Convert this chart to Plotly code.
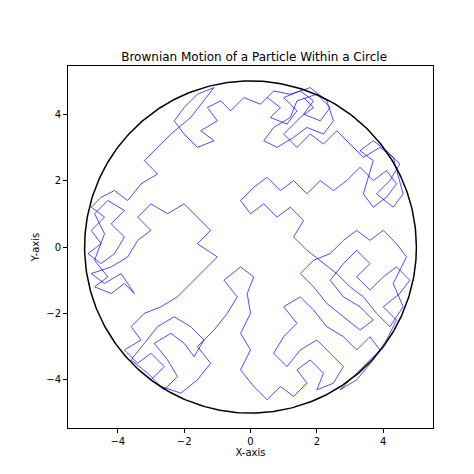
import plotly.graph_objects as go
import numpy as np

pts = [(0.5,4.5),(0.9,4.2),(0.6,3.9),(1.1,3.7),(1.4,4.1),(1.0,4.5),(1.5,4.7),(1.9,4.4),(1.6,4.0),(2.1,3.8),(2.4,4.2),(2.0,4.6),(1.4,4.4),(1.2,3.9),(0.7,3.6),(0.4,3.2),(0.8,3.0),(1.3,3.3),(1.7,3.6),(2.2,3.4),(2.5,3.8),(2.3,4.4),(1.8,4.8),(1.2,4.6),(0.7,4.7),(0.3,4.3),(-0.2,4.5),(-0.6,4.1),(-0.9,4.4),(-1.3,4.2),(-1.0,3.8),(-1.5,3.5),(-1.1,3.2),(-1.6,3.0),(-2.0,3.4),(-2.3,3.8),(-2.0,4.2),(-1.6,4.6),(-1.1,4.8),(-1.4,4.4),(-1.8,3.9),(-2.4,3.4),(-2.8,3.0),(-3.2,2.6),(-2.8,2.2),(-3.3,1.9),(-3.7,1.4),(-4.1,1.7),(-4.5,1.5),(-4.8,1.2),(-4.4,0.9),(-4.8,0.5),(-4.5,0.1),(-4.9,-0.2),(-4.5,-0.5),(-4.1,-0.2),(-3.8,0.3),(-4.2,0.7),(-3.8,1.1),(-4.3,1.4),(-4.7,1.0),(-4.4,0.4),(-4.7,-0.4),(-4.3,-0.9),(-4.7,-1.2),(-4.2,-1.4),(-3.8,-1.1),(-3.5,-1.4),(-3.9,-0.8),(-4.4,-1.1),(-4.8,-0.8),(-4.2,-0.6),(-3.7,-0.3),(-3.4,0.2),(-3.0,0.5),(-3.4,0.9),(-3.0,1.3),(-2.5,1.0),(-2.0,1.3),(-1.6,0.9),(-1.2,0.5),(-1.6,0.1),(-1.0,-0.3),(-1.4,-0.7),(-1.8,-1.1),(-2.2,-1.5),(-2.7,-1.8),(-3.2,-2.0),(-3.6,-2.4),(-3.3,-2.8),(-3.8,-3.1),(-3.4,-3.5),(-3.0,-3.2),(-2.6,-3.6),(-3.0,-4.0),(-2.6,-4.3),(-2.2,-3.9),(-2.5,-3.4),(-2.9,-2.9),(-2.4,-2.6),(-2.0,-2.9),(-1.7,-3.3),(-1.4,-2.8),(-1.8,-2.4),(-2.3,-2.1),(-2.8,-2.4),(-3.2,-2.9),(-3.6,-3.4),(-3.1,-3.8),(-2.7,-4.2),(-2.1,-4.4),(-1.6,-4.0),(-1.2,-3.5),(-1.6,-3.0),(-1.1,-2.5),(-0.7,-2.0),(-0.4,-1.5),(-0.8,-1.0),(-0.3,-0.6),(0.1,-0.9),(-0.1,-1.4),(0.0,-2.0),(-0.3,-2.6),(0.0,-3.1),(-0.3,-3.7),(0.1,-4.2),(0.5,-4.6),(0.9,-4.2),(1.3,-4.5),(1.7,-4.1),(1.4,-3.7),(1.8,-3.4),(2.2,-3.8),(2.0,-4.3),(2.5,-4.1),(2.8,-3.6),(2.4,-3.2),(2.0,-2.8),(1.5,-3.1),(1.1,-3.6),(0.7,-3.2),(1.0,-2.7),(1.4,-2.3),(1.0,-1.8),(1.5,-1.5),(1.9,-1.9),(2.3,-2.4),(2.8,-2.7),(3.2,-3.1),(3.6,-2.7),(3.9,-3.1),(3.5,-3.5),(3.1,-3.9),(2.7,-4.3),(3.2,-4.0),(3.7,-3.4),(4.1,-2.8),(4.4,-2.2),(4.0,-1.8),(4.5,-1.4),(4.8,-1.0),(4.4,-0.6),(4.0,-0.9),(3.6,-1.3),(3.2,-0.9),(3.6,-0.5),(3.2,-0.1),(2.8,-0.5),(2.4,-1.0),(2.8,-1.5),(3.3,-1.8),(3.7,-2.2),(3.3,-2.5),(2.8,-2.1),(2.3,-1.7),(1.9,-1.2),(1.5,-0.8),(1.9,-0.4),(2.4,-0.2),(2.8,0.2),(3.2,0.5),(3.6,0.2),(4.0,0.5),(4.4,0.1),(4.7,-0.3),(4.3,-1.1),(4.6,-1.8),(4.2,-2.4),(3.8,-2.0),(3.4,-1.5),(3.0,-1.2),(2.6,-0.8),(2.2,-0.5),(1.7,-0.1),(1.3,0.3),(1.6,0.8),(1.2,1.2),(0.8,0.9),(0.4,1.3),(0.0,1.0),(-0.3,1.4),(0.1,1.8),(0.5,2.1),(0.9,1.7),(1.3,2.0),(1.7,1.6),(2.1,2.0),(2.5,1.7),(2.9,2.0),(3.3,2.4),(3.7,2.0),(4.1,2.3),(4.4,1.9),(4.1,1.5),(3.7,1.2),(3.4,1.6),(3.7,2.6),(3.3,2.9),(3.7,3.2),(4.1,2.9),(4.5,2.5),(4.2,2.0),(3.8,1.6),(4.3,1.2),(4.6,1.6),(4.3,2.7),(3.9,3.0),(3.4,2.7),(3.0,3.1),(2.6,3.5),(2.2,3.1),(1.8,3.4),(1.4,3.0),(1.0,3.4),(1.5,3.9),(1.9,4.2),(1.6,4.5)]
path_x = [p[0] for p in pts]
path_y = [p[1] for p in pts]
radius = 5

theta = np.linspace(0, 2*np.pi, 361)
fig = go.Figure()
fig.add_trace(go.Scatter(x=path_x, y=path_y, mode="lines", line=dict(color="blue", width=0.7)))
fig.add_trace(go.Scatter(x=radius*np.cos(theta), y=radius*np.sin(theta), mode="lines",
                         line=dict(color="black", width=1.5)))
ax = dict(showgrid=False, zeroline=False, showline=True, linecolor="black", mirror=True,
          ticks="outside", ticklen=4, tickcolor="black", tickvals=[-4,-2,0,2,4],
          tickfont=dict(size=10, color="black"), automargin=False)
fig.update_layout(
    width=474, height=474, showlegend=False, plot_bgcolor="white", paper_bgcolor="white",
    margin=dict(l=60, r=49, t=58, b=54, autoexpand=False),
    font=dict(family="DejaVu Sans", color="black"),
    title=dict(text="Brownian Motion of a Particle Within a Circle", x=0.51, xref="paper",
               y=1 - 53/474, yref="container", xanchor="center", yanchor="bottom",
               font=dict(size=12), automargin=False),
    xaxis=dict(range=[-5.5, 5.5], title=dict(text="X-axis", font=dict(size=10), standoff=2), **ax),
    yaxis=dict(range=[-5.45, 5.45], title=dict(text="Y-axis", font=dict(size=10), standoff=4), **ax),
)
fig.write_html("out.html")
